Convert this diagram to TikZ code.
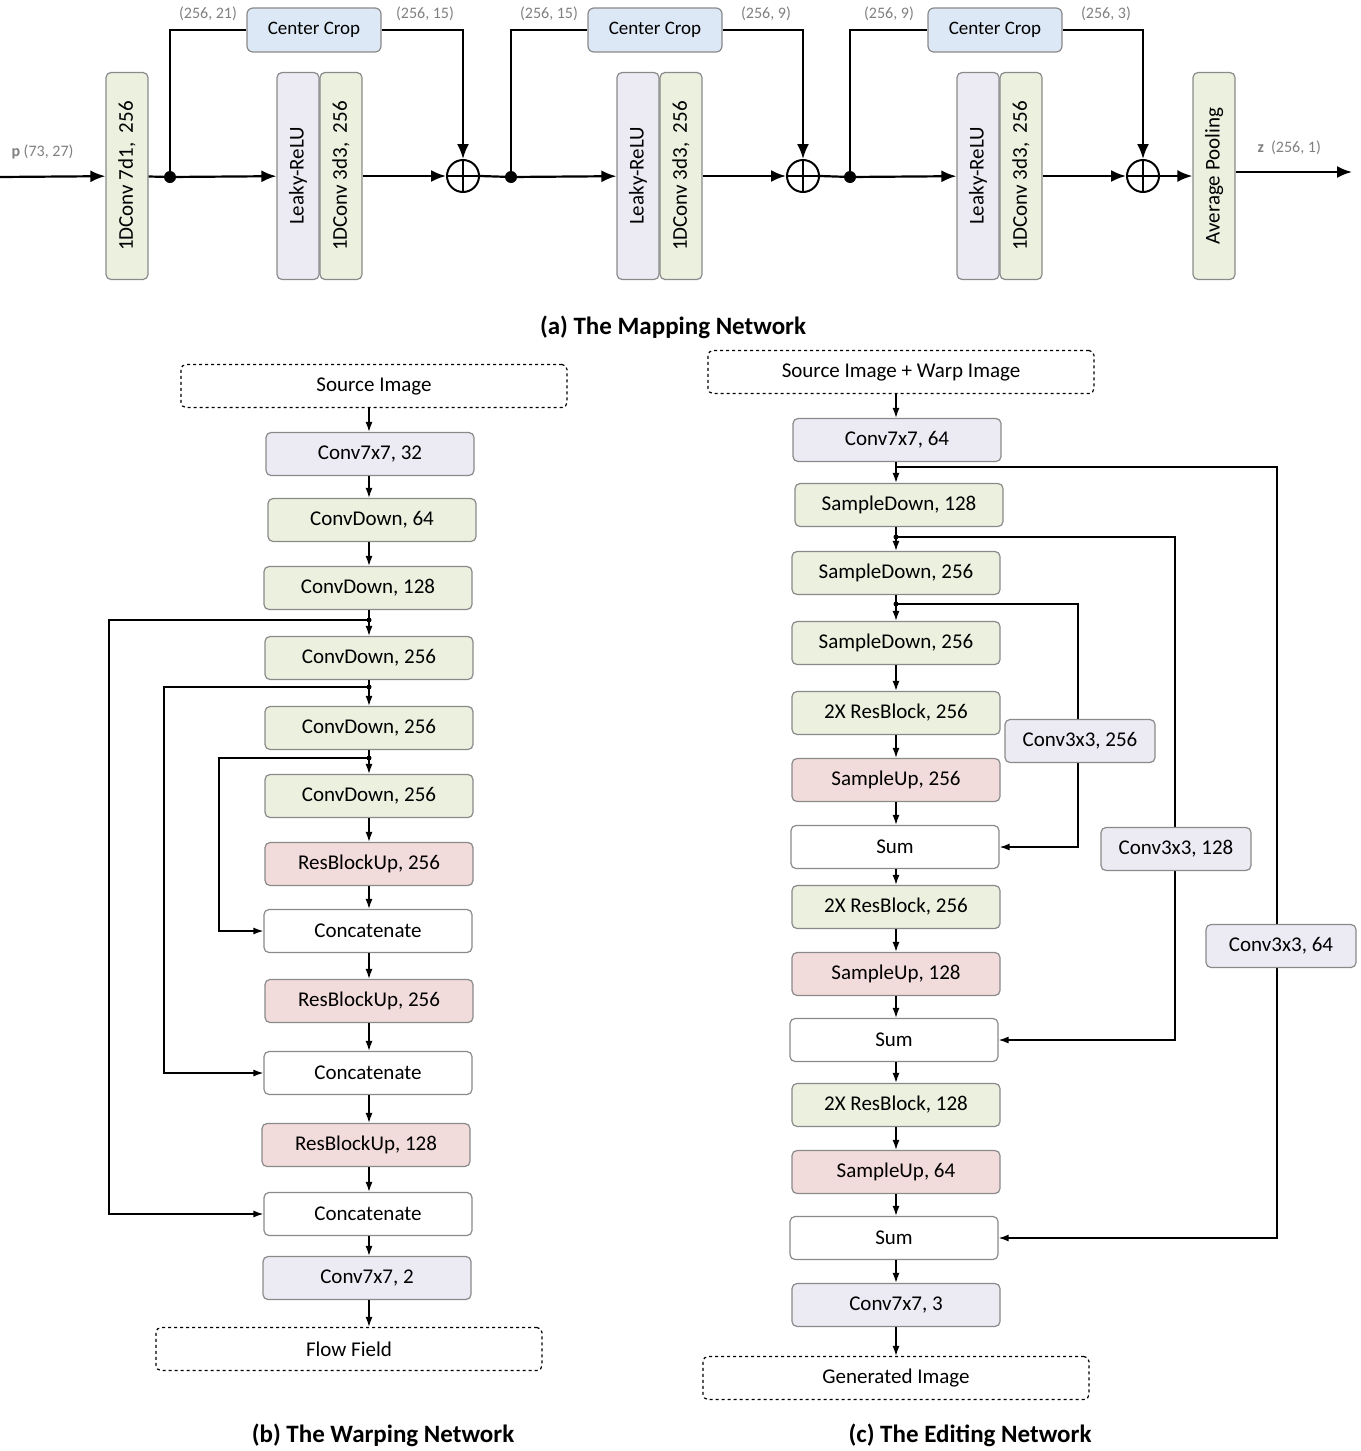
\documentclass[tikz,border=0pt]{standalone}
\usepackage{fontspec}
\setmainfont{Carlito}
\usetikzlibrary{arrows.meta}
\definecolor{gF}{HTML}{EBF0DF}
\definecolor{lF}{HTML}{ECEAF3}
\definecolor{rF}{HTML}{F2DCDB}
\definecolor{bF}{HTML}{DCE8F5}
\definecolor{bd}{HTML}{8A8A8A}
\begin{document}
\begin{tikzpicture}[x=1pt,y=-1pt,
 box/.style={draw=bd,line width=1.2pt,rounded corners=5pt,minimum width=208pt,minimum height=43pt,inner sep=0pt,font=\fontsize{21}{24}\selectfont},
 g/.style={box,fill=gF}, l/.style={box,fill=lF}, r/.style={box,fill=rF}, w/.style={box,fill=white},
 dsh/.style={draw,dashed,line width=1.2pt,rounded corners=5pt,minimum width=386pt,minimum height=43pt,font=\fontsize{21}{24}\selectfont},
 vb/.style={draw=bd,line width=1.2pt,rounded corners=5pt,minimum width=207pt,minimum height=42pt,inner sep=0pt,rotate=90,font=\fontsize{21}{24}\selectfont},
 cc/.style={draw=bd,line width=1.2pt,rounded corners=6pt,fill=bF,minimum width=134pt,minimum height=44pt,font=\fontsize{19}{22}\selectfont},
 sm/.style={text=gray,font=\fontsize{16}{18}\selectfont},
 ar/.style={-{Latex[length=10pt,width=7pt]},line width=1.4pt},
 thk/.style={-{Latex[length=15pt,width=12pt]},line width=2.2pt},
 ln/.style={line width=1.4pt},
 capt/.style={font=\bfseries\fontsize{25}{28}\selectfont}]
\useasboundingbox (0,0) rectangle (1360,1451);
% ---------- (a) ----------
\node[vb,fill=gF] (m1) at (127,176) {1DConv 7d1,\ \ 256};
\coordinate (pin) at (0,177);
\draw[thk] (pin) -- (m1);
\node[sm,anchor=west] at (8,152) {\textcolor{gray}{\textbf{p}} (73, 27)};
\foreach \i/\dx/\lx/\cx/\ox/\la/\lb in {1/170/298/314/463/{(256, 21)}/{(256, 15)},2/511/638/655/803/{(256, 15)}/{(256, 9)},3/850/978/995/1143/{(256, 9)}/{(256, 3)}}{
 \node[vb,fill=lF] (lr\i) at (\lx,176) {Leaky-ReLU};
 \node[vb,fill=gF] (cv\i) at (\lx+43,176) {1DConv 3d3,\ \ 256};
 \node[cc] (cc\i) at (\cx,30) {Center Crop};
 \node[circle,draw,line width=2pt,minimum size=32pt,inner sep=0pt] (o\i) at (\ox,176) {};
 \draw[line width=2pt] (o\i.north)--(o\i.south) (o\i.west)--(o\i.east);
 \coordinate (d\i) at (\dx,177);
 \fill (d\i) circle (6pt);
 \draw[line width=2.2pt] (d\i) |- (cc\i.west);
 \draw[thk] (cc\i.east) -| (o\i.north);
 \draw[thk] (d\i) -- (lr\i);
 \draw[thk] (cv\i) -- (o\i.west);
 \node[sm] at (\cx-106,14) {\la};
 \node[sm] at (\cx+111,14) {\lb};
}
\draw[line width=2.2pt] (m1) -- (d1);
\draw[line width=2.2pt] (o1.east) -- (d2);
\draw[line width=2.2pt] (o2.east) -- (d3);
\node[vb,fill=gF] (ap) at (1214,176) {Average Pooling};
\draw[thk] (o3.east) -- (ap);
\coordinate (zout) at (1352,172);
\draw[thk] (ap.south |- zout) -- (zout);
\node[sm,anchor=west] at (1254,148) {\textbf{z}\ \ (256, 1)};
\node[capt] at (673,327) {(a) The Mapping Network};
% ---------- (b) ----------
\node[dsh] (bs) at (374,386) {Source Image};
\node[l] (b1) at (370,454) {Conv7x7, 32};
\node[g] (b2) at (372,520) {ConvDown, 64};
\node[g] (b3) at (368,588) {ConvDown, 128};
\node[g] (b4) at (369,658) {ConvDown, 256};
\node[g] (b5) at (369,728) {ConvDown, 256};
\node[g] (b6) at (369,796) {ConvDown, 256};
\node[r] (b7) at (369,864) {ResBlockUp, 256};
\node[w] (b8) at (368,931) {Concatenate};
\node[r] (b9) at (369,1001) {ResBlockUp, 256};
\node[w] (b10) at (368,1073) {Concatenate};
\node[r] (b11) at (366,1145) {ResBlockUp, 128};
\node[w] (b12) at (368,1214) {Concatenate};
\node[l] (b13) at (367,1278) {Conv7x7, 2};
\node[dsh] (bf) at (349,1349) {Flow Field};
\foreach \a/\b in {bs/b1,b1/b2,b2/b3,b3/b4,b4/b5,b5/b6,b6/b7,b7/b8,b8/b9,b9/b10,b10/b11,b11/b12,b12/b13,b13/bf}
 \draw[ar] (\a.south -| 369,0) -- (\b.north -| 369,0);
\coordinate (j1) at (369,620); \coordinate (j2) at (369,687); \coordinate (j3) at (369,758);
\foreach \j in {j1,j2,j3} \fill (\j) circle (2.5pt);
\draw[ar] (j1) -- (109,620) |- (b12.west);
\draw[ar] (j2) -- (164,687) |- (b10.west);
\draw[ar] (j3) -- (219,758) |- (b8.west);
\node[capt] at (383,1435) {(b) The Warping Network};
% ---------- (c) ----------
\node[dsh] (cs) at (901,372) {Source Image + Warp Image};
\node[l] (c1) at (897,440) {Conv7x7, 64};
\node[g] (c2) at (899,505) {SampleDown, 128};
\node[g] (c3) at (896,573) {SampleDown, 256};
\node[g] (c4) at (896,643) {SampleDown, 256};
\node[g] (c5) at (896,713) {2X ResBlock, 256};
\node[r] (c6) at (896,780) {SampleUp, 256};
\node[w] (c7) at (895,847) {Sum};
\node[g] (c8) at (896,907) {2X ResBlock, 256};
\node[r] (c9) at (896,974) {SampleUp, 128};
\node[w] (c10) at (894,1040) {Sum};
\node[g] (c11) at (896,1105) {2X ResBlock, 128};
\node[r] (c12) at (896,1172) {SampleUp, 64};
\node[w] (c13) at (894,1238) {Sum};
\node[l] (c14) at (896,1305) {Conv7x7, 3};
\node[dsh] (cg) at (896,1378) {Generated Image};
\foreach \a/\b in {cs/c1,c1/c2,c2/c3,c3/c4,c4/c5,c5/c6,c6/c7,c7/c8,c8/c9,c9/c10,c10/c11,c11/c12,c12/c13,c13/c14,c14/cg}
 \draw[ar] (\a.south -| 896,0) -- (\b.north -| 896,0);
\coordinate (k1) at (896,467); \coordinate (k2) at (896,537); \coordinate (k3) at (896,604);
\fill (k2) circle (2.5pt); \fill (k3) circle (2.5pt);
\draw[ar] (k1) -- (1277,467) |- (c13.east);
\draw[ar] (k2) -- (1175,537) |- (c10.east);
\draw[ar] (k3) -- (1078,604) |- (c7.east);
\tikzset{sk/.style={box,fill=lF,minimum width=150pt}}
\node[sk] (s1) at (1080,741) {Conv3x3, 256};
\node[sk] (s2) at (1176,849) {Conv3x3, 128};
\node[sk] (s3) at (1281,946) {Conv3x3, 64};
\node[capt] at (970,1435) {(c) The Editing Network};
\end{tikzpicture}
\end{document}
